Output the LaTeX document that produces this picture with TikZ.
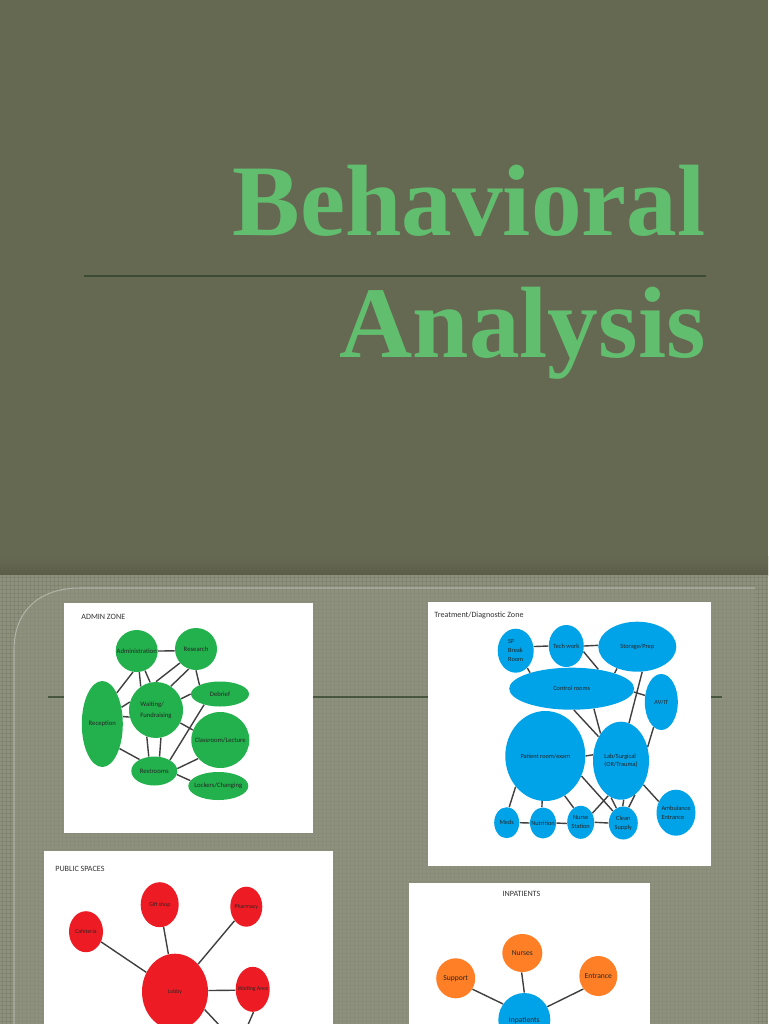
\documentclass[tikz,border=0pt]{standalone}
\usepackage{fontspec}
\setmainfont{Liberation Serif}
\newfontfamily\labelfont{Carlito}
\usepackage{xcolor}
\usetikzlibrary{shapes, positioning}
\definecolor{slidetop}{HTML}{666952}
\definecolor{slidedark}{HTML}{5B5D49}
\definecolor{slidelow}{HTML}{8D917D}
\definecolor{meshline}{HTML}{7F8370}
\definecolor{titlegreen}{HTML}{62BE6F}
\definecolor{rulegreen}{HTML}{3C4C34}
\definecolor{adminfill}{HTML}{22B14C}
\definecolor{treatfill}{HTML}{00A2E8}
\definecolor{publicfill}{HTML}{ED1C24}
\definecolor{inpatfill}{HTML}{FF7F27}
\tikzset{
    bubble/.style n args={3}{ellipse, inner sep=-40pt, align=center, text=black!85, fill=#1,
        minimum width=#2*0.02cm, minimum height=#3*0.02cm},
    link/.style={draw=black!75, line width=0.8pt},
    zonetitle/.style={font=\labelfont\fontsize{4.6}{5.5}\selectfont, text=black!80, anchor=west, inner sep=0pt},
    panel/.style={fill=white},
    titletext/.style={font=\bfseries\fontsize{57.7}{60}\selectfont, text=titlegreen, anchor=base east, inner sep=0pt}
}
\begin{document}
\begin{tikzpicture}[x=0.02cm, y=-0.02cm]
    \clip (0, 0) rectangle (768, 1024);
    \fill[slidetop] (0, 0) rectangle (768, 575);
    \shade[top color=slidetop, bottom color=slidedark] (0, 556) rectangle (768, 575);
    \fill[slidelow] (0, 575) rectangle (768, 1024);
    \foreach \x in {2, 6, ..., 766} {
        \draw[meshline, line width=0.3pt] (\x, 575) -- (\x, 1024);
    }
    \foreach \y in {577, 581, ..., 1023} {
        \draw[meshline, line width=0.3pt] (0, \y) -- (768, \y);
    }
    \fill[slidelow, opacity=0.6] (14, 1024) -- (14, 650) .. controls (14, 610) and (40, 588) .. (80, 588) -- (755, 588) -- (755, 1024) -- cycle;
    \draw[slidelow!70!white, line width=0.6pt] (14, 1024) -- (14, 650) .. controls (14, 610) and (40, 588) .. (80, 588) -- (755, 588);

    % title
    \node[titletext] (behav) at (706, 235) {Behavioral};
    \node[titletext] (analysis) at (706, 357.5) {Analysis};
    \draw[rulegreen, line width=0.7pt] (84, 276) -- (706, 276);
    \draw[rulegreen!85!slidelow, line width=1.1pt] (48, 697) -- (722, 697);

    % admin zone
    \fill[panel] (64, 603) rectangle (313, 833);
    \node[zonetitle] (admintitle) at (81, 617) {ADMIN ZONE};
    \begin{scope}[every node/.append style={font=\labelfont\fontsize{3.8}{6.5}\selectfont}]
        \node[bubble={adminfill}{42}{42}] (admn) at (136.7, 651) {Administration};
        \node[bubble={adminfill}{42}{42}] (rsch) at (196, 649) {Research};
        \node[bubble={adminfill}{41}{86}] (recp) at (102.3, 724) {Reception};
        \node[bubble={adminfill}{54}{56}, align=left] (wait) at (156, 710) {Waiting/\\Fundraising};
        \node[bubble={adminfill}{58}{25}] (dbrf) at (220, 694) {Debrief};
        \node[bubble={adminfill}{58}{56}] (clss) at (220.3, 740) {Classroom/Lecture};
        \node[bubble={adminfill}{46}{29}] (rest) at (154.3, 771) {Restrooms};
        \node[bubble={adminfill}{60}{28}] (lock) at (218.3, 786) {Lockers/Changing};
    \end{scope}
    \draw[link] (admn.0) -- (rsch.185)
        (admn.260) -- (recp.65)
        (admn.277) -- (wait.123)
        (admn.293) -- (wait.102)
        (rsch.221) -- (wait.90)
        (rsch.250) -- (wait.58)
        (rsch.270) -- (dbrf.156)
        (wait.24) -- (dbrf.180)
        (wait.332) -- (clss.160)
        (wait.163) -- (recp.41)
        (wait.195) -- (recp.20)
        (wait.251) -- (rest.111)
        (wait.280) -- (rest.70)
        (recp.305) -- (rest.142)
        (dbrf.214) -- (rest.35)
        (rest.6) -- (clss.220)
        (rest.351) -- (lock.169);

    % treatment zone
    \fill[panel] (428.3, 602.3) rectangle (710.7, 865.7);
    \node[zonetitle] (treattitle) at (434, 615) {Treatment/Diagnostic Zone};
    \begin{scope}[every node/.append style={font=\labelfont\fontsize{3.6}{5}\selectfont}]
        \node[bubble={treatfill}{36}{44}, align=left] (sprm) at (515.7, 650.7) {SP\\Break\\Room};
        \node[bubble={treatfill}{35}{42}] (tech) at (566.3, 646) {Tech work};
        \node[bubble={treatfill}{78}{50}] (stor) at (637.3, 646.7) {Storage/Prep};
        \node[bubble={treatfill}{125}{42}] (ctrl) at (571.7, 688.7) {Control rooms};
        \node[bubble={treatfill}{33}{56}] (avit) at (661.3, 702) {AV/IT};
        \node[bubble={treatfill}{80}{90}] (ptnt) at (545.3, 756) {Patient room/exam};
        \node[bubble={treatfill}{56}{78}, align=left] (labs) at (621, 760.7) {Lab/Surgical\\(OR/Trauma)};
        \node[bubble={treatfill}{25}{31}] (meds) at (506.7, 822.7) {Meds};
        \node[bubble={treatfill}{26}{31}] (nutr) at (543, 823) {Nutrition};
        \node[bubble={treatfill}{27}{33}] (nurs) at (580.7, 822.3) {Nurse\\Station};
        \node[bubble={treatfill}{29}{33}] (cln) at (623.3, 823) {Clean\\Supply};
        \node[bubble={treatfill}{39}{46}, align=left] (ambl) at (676, 812.7) {Ambulance\\Entrance};
    \end{scope}
    \draw[link] (sprm.13) -- (tech.180)
        (tech.0) -- (stor.178)
        (sprm.304) -- (ctrl.159)
        (tech.342) -- (ctrl.36)
        (stor.227) -- (ctrl.20)
        (stor.281) -- (labs.78)
        (ctrl.357) -- (avit.158)
        (avit.253) -- (labs.27)
        (ctrl.276) -- (labs.133)
        (ctrl.318) -- (labs.127)
        (ptnt.0) -- (labs.168)
        (ptnt.226) -- (meds.81)
        (ptnt.266) -- (nutr.94)
        (ptnt.296) -- (nurs.116)
        (ptnt.331) -- (cln.131)
        (labs.250) -- (nurs.38)
        (labs.255) -- (cln.115)
        (labs.274) -- (cln.92)
        (labs.292) -- (cln.71)
        (labs.313) -- (ambl.147)
        (meds.0) -- (nutr.180)
        (nutr.0) -- (nurs.185)
        (nurs.0) -- (cln.180);

    % public spaces
    \fill[panel] (44, 851) rectangle (333.3, 1030);
    \node[zonetitle] (pubtitle) at (55, 869) {PUBLIC SPACES};
    \begin{scope}[every node/.append style={font=\labelfont\fontsize{3.3}{5}\selectfont}]
        \node[bubble={publicfill}{34}{41}] (cafe) at (86, 931.7) {Cafeteria};
        \node[bubble={publicfill}{38}{45}] (gift) at (159.7, 904.7) {Gift shop};
        \node[bubble={publicfill}{32}{40}] (phrm) at (246.3, 906.7) {Pharmacy};
        \node[bubble={publicfill}{66}{76}] (lbby) at (175, 991.7) {Lobby};
        \node[bubble={publicfill}{34}{45}] (warea) at (252.7, 989.3) {Waiting Area};
    \end{scope}
    \coordinate (lobbyend) at (221, 1027);
    \coordinate (waitend) at (247, 1027);
    \draw[link] (cafe) -- (lbby)
        (gift) -- (lbby)
        (phrm) -- (lbby)
        (warea.183) -- (lbby.2)
        (lbby.329) -- (lobbyend)
        (warea.272) -- (waitend);

    % inpatients
    \fill[panel] (409.3, 883) rectangle (650, 1030);
    \node[zonetitle, anchor=center] (inptitle) at (521.5, 893.5) {INPATIENTS};
    \begin{scope}[every node/.append style={font=\labelfont\fontsize{4.3}{5}\selectfont}]
        \node[bubble={inpatfill}{40}{38}] (nrse) at (522.3, 953) {Nurses};
        \node[bubble={inpatfill}{39}{40}] (supp) at (455.7, 978.3) {Support};
        \node[bubble={inpatfill}{38}{40}] (entr) at (598.3, 976) {Entrance};
        \node[bubble={treatfill}{52}{54}] (inpt) at (524.3, 1020) {Inpatients};
    \end{scope}
    \draw[link] (nrse.268) -- (inpt.90)
        (supp.327) -- (inpt.143)
        (entr.221) -- (inpt.30);
\end{tikzpicture}
\end{document}
